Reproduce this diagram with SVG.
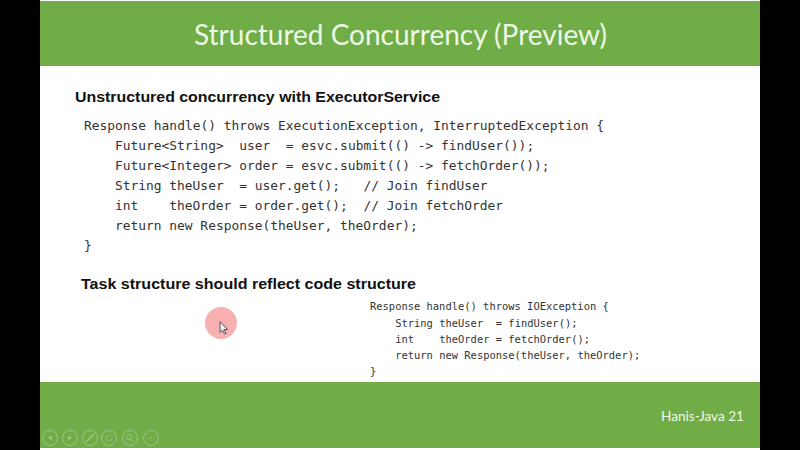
<svg xmlns="http://www.w3.org/2000/svg" width="800" height="450" viewBox="0 0 800 450">
<style>
.code{font-family:"DejaVu Sans Mono",monospace;fill:#333}
.a{font-size:12.9px}
.b{font-size:10.45px}
.h{font-family:"Liberation Sans",Arial,sans-serif;font-weight:bold;font-size:14.5px;fill:#111}
.t{font-family:Lato,"Open Sans",sans-serif;fill:#eef8e6}
.c{fill:none;stroke:#9cc987;stroke-width:1}
</style>
<rect width="800" height="450" fill="#000"/>
<rect x="40" y="0" width="720" height="450" fill="#fff"/>
<rect x="40" y="1" width="720" height="65" fill="#70ad47"/>
<rect x="40" y="382" width="720" height="66" fill="#70ad47"/>
<text class="t" x="194" y="45" font-size="29.500" textLength="413" lengthAdjust="spacingAndGlyphs">Structured Concurrency (Preview)</text>
<text class="t" x="661" y="421" font-size="14" textLength="83" lengthAdjust="spacingAndGlyphs">Hanis-Java 21</text>
<text class="h" x="75" y="102" textLength="365" lengthAdjust="spacingAndGlyphs">Unstructured concurrency with ExecutorService</text>
<g class="code a">
<text x="84" y="130">Response handle() throws ExecutionException, InterruptedException {</text>
<text y="150"><tspan x="115">Future&lt;String&gt;</tspan> <tspan x="239.200">user</tspan> <tspan x="285.800">= esvc.submit(() -&gt; findUser());</tspan></text>
<text x="115" y="170">Future&lt;Integer&gt; order = esvc.submit(() -&gt; fetchOrder());</text>
<text y="190"><tspan x="115">String theUser</tspan> <tspan x="239.200">= user.get();</tspan> <tspan x="363.400">// Join findUser</tspan></text>
<text y="210"><tspan x="115">int</tspan> <tspan x="169.300">theOrder = order.get();</tspan> <tspan x="363.400">// Join fetchOrder</tspan></text>
<text x="115" y="230">return new Response(theUser, theOrder);</text>
<text x="84" y="250">}</text>
</g>
<text class="h" x="81" y="289" textLength="335" lengthAdjust="spacingAndGlyphs">Task structure should reflect code structure</text>
<g class="code b">
<text x="370" y="310">Response handle() throws IOException {</text>
<text y="326.500"><tspan x="395.200">String theUser</tspan> <tspan x="495.800">= findUser();</tspan></text>
<text y="343"><tspan x="395.200">int</tspan> <tspan x="439.200">theOrder = fetchOrder();</tspan></text>
<text x="395.200" y="359">return new Response(theUser, theOrder);</text>
<text x="370" y="375">}</text>
</g>
<circle cx="221" cy="323" r="16" fill="#f9b0b0"/>
<path d="M220 321.500v11l2.500-2.500 2 4 1.500-.8-2-3.700h3.500z" fill="#eee" stroke="#555" stroke-width="1"/>
<g id="controls">
<circle class="c" cx="50" cy="438" r="7.500"/><path d="M52 435.500l-4 2.500 4 2.500z" fill="#9cc987"/>
<circle class="c" cx="70" cy="438" r="7.500"/><path d="M68 435.500l4 2.500-4 2.500z" fill="#9cc987"/>
<circle class="c" cx="90" cy="438" r="7.500"/><path d="M86 442l8-8" stroke="#9cc987" stroke-width="1.500"/>
<circle class="c" cx="109" cy="438" r="7.500"/><circle class="c" cx="109" cy="438" r="3" stroke-dasharray="2 1"/>
<circle class="c" cx="130" cy="438" r="7.500"/><circle class="c" cx="129" cy="437" r="2.500"/><path d="M131 439l3 3" stroke="#9cc987"/>
<circle class="c" cx="151" cy="438" r="7.500"/><path d="M147 438h1.500M150.500 438h1.500M154 438h1.500" stroke="#9cc987"/>
</g>
</svg>
